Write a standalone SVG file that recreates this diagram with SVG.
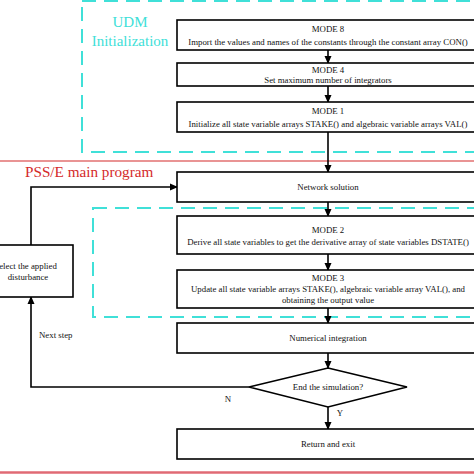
<svg xmlns="http://www.w3.org/2000/svg" width="474" height="474" viewBox="0 0 474 474">
<defs>
<marker id="ah" markerWidth="8" markerHeight="8" refX="7" refY="4" orient="auto" markerUnits="userSpaceOnUse">
<path d="M0,0.5 L8,4 L0,7.5 Z" fill="#000"/>
</marker>
<style>
.box{fill:#fff;stroke:#000;stroke-width:1.6}
.t{font-family:"Liberation Serif",serif;font-size:8.8px;fill:#111;text-anchor:middle}
.c{fill:none;stroke:#000;stroke-width:1.6}
.dash{fill:none;stroke:#40e0d8;stroke-width:2;stroke-dasharray:14,8}
.ct{font-family:"Liberation Serif",serif;font-size:15px;fill:#40e0d8;text-anchor:middle}
</style>
</defs>
<rect width="474" height="474" fill="#fff"/>
<rect class="dash" x="82" y="1" width="420" height="151"/>
<text class="ct" x="130" y="27">UDM</text>
<text class="ct" x="130" y="46">Initialization</text>
<line x1="0" y1="161" x2="474" y2="161" stroke="#d42a2a" stroke-width="1.2"/>
<text x="25" y="177" font-family="Liberation Serif,serif" font-size="15.2" fill="#d42a2a">PSS/E main program</text>
<rect class="dash" x="93" y="208" width="420" height="109"/>
<line x1="0" y1="472.5" x2="474" y2="472.5" stroke="#e06a74" stroke-width="2.5"/>
<g id="connectors">
<line class="c" x1="328" y1="50" x2="328" y2="63" marker-end="url(#ah)"/>
<line class="c" x1="328" y1="86" x2="328" y2="102" marker-end="url(#ah)"/>
<line class="c" x1="328" y1="132" x2="328" y2="172" marker-end="url(#ah)"/>
<line class="c" x1="328" y1="202" x2="328" y2="216" marker-end="url(#ah)"/>
<line class="c" x1="328" y1="254" x2="328" y2="270" marker-end="url(#ah)"/>
<line class="c" x1="328" y1="308" x2="328" y2="323" marker-end="url(#ah)"/>
<line class="c" x1="328" y1="353" x2="328" y2="368" marker-end="url(#ah)"/>
<line class="c" x1="328" y1="407" x2="328" y2="429" marker-end="url(#ah)"/>
<polyline class="c" points="249,387 31,387 31,297" marker-end="url(#ah)"/>
<polyline class="c" points="31,245 31,187 177,187" marker-end="url(#ah)"/>
<text class="t" x="39" y="338" style="text-anchor:start">Next step</text>
<text class="t" x="228" y="402">N</text>
<text class="t" x="340" y="416">Y</text>
</g>
<g id="mode8">
<rect class="box" x="177" y="20" width="310" height="30"/>
<text class="t" x="328" y="32">MODE 8</text>
<text class="t" x="328" y="45">Import the values and names of the constants through the constant array CON()</text>
</g>
<g id="mode4">
<rect class="box" x="177" y="63" width="310" height="23"/>
<text class="t" x="328" y="73">MODE 4</text>
<text class="t" x="328" y="83">Set maximum number of integrators</text>
</g>
<g id="mode1">
<rect class="box" x="177" y="102" width="310" height="30"/>
<text class="t" x="328" y="114">MODE 1</text>
<text class="t" x="328" y="127">Initialize all state variable arrays STAKE() and algebraic variable arrays VAL()</text>
</g>
<g id="network">
<rect class="box" x="177" y="172" width="310" height="30"/>
<text class="t" x="328" y="190">Network solution</text>
</g>
<g id="mode2">
<rect class="box" x="177" y="216" width="310" height="38"/>
<text class="t" x="328" y="233">MODE 2</text>
<text class="t" x="328" y="245">Derive  all state variables to get the derivative array of state variables DSTATE()</text>
</g>
<g id="mode3">
<rect class="box" x="177" y="270" width="310" height="38"/>
<text class="t" x="328" y="281">MODE 3</text>
<text class="t" x="328" y="292">Update all state variable arrays STAKE(), algebraic variable array VAL(), and</text>
<text class="t" x="328" y="303">obtaining the output value</text>
</g>
<g id="numint">
<rect class="box" x="177" y="323" width="310" height="30"/>
<text class="t" x="328" y="341">Numerical integration</text>
</g>
<g id="decision">
<polygon class="box" points="328,368 407,387 328,407 249,387"/>
<text class="t" x="328" y="390">End the simulation?</text>
</g>
<g id="exit">
<rect class="box" x="177" y="429" width="310" height="30"/>
<text class="t" x="328" y="447">Return and exit</text>
</g>
<g id="disturbance">
<rect class="box" x="-10" y="245" width="83" height="52"/>
<text class="t" x="28" y="269">elect the applied</text>
<text class="t" x="28" y="280">disturbance</text>
</g>
</svg>
